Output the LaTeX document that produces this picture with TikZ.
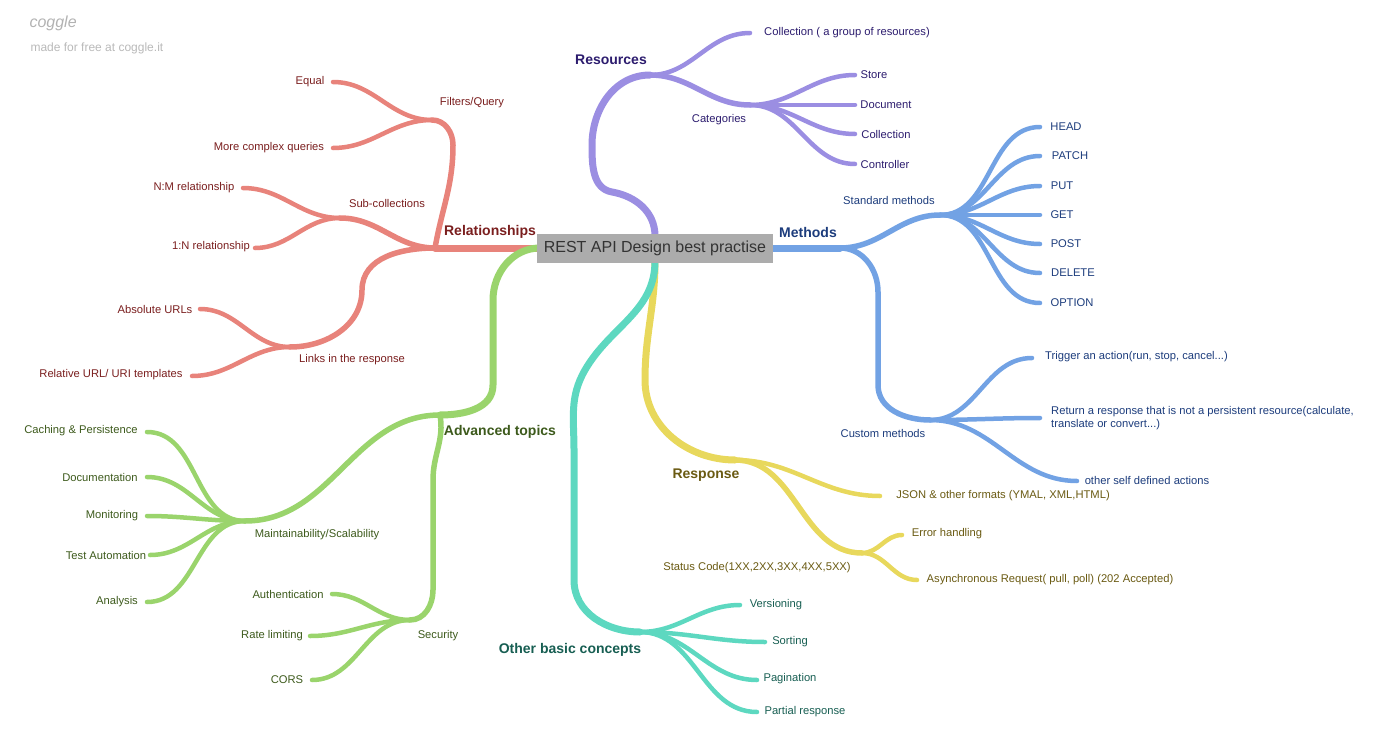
\documentclass[tikz,border=0pt]{standalone}
\usepackage{fontspec}
\setmainfont{Liberation Sans}
\definecolor{cred}{HTML}{E8837B}\definecolor{tred}{HTML}{7A1E1E}
\definecolor{cgrn}{HTML}{9AD46C}\definecolor{tgrn}{HTML}{3D5A1C}
\definecolor{ctea}{HTML}{5DD8C0}\definecolor{ttea}{HTML}{175E52}
\definecolor{cyel}{HTML}{E8D85C}\definecolor{tyel}{HTML}{6A5A12}
\definecolor{cpur}{HTML}{9B8EE2}\definecolor{tpur}{HTML}{2C1C6E}
\definecolor{cblu}{HTML}{72A2E4}\definecolor{tblu}{HTML}{1C3C7C}
\tikzset{
 lbl/.style={font=\fontsize{11.2}{13.2}\selectfont,inner sep=1pt},
 ttl/.style={font=\fontsize{14}{16}\selectfont\bfseries,inner sep=1pt},
 mainb/.style={line width=7pt,line cap=round},
 subb/.style={line width=5.5pt,line cap=round},
 leafb/.style={line width=4.5pt,line cap=round},
}
\begin{document}
\begin{tikzpicture}[x=1pt,y=-1pt]
\useasboundingbox (0,0) rectangle (1400,752);
\node[font=\fontsize{16}{18}\selectfont\itshape,text=gray!60,anchor=west] (cg) at (26,23) {coggle};
\node[font=\fontsize{12}{14}\selectfont,text=gray!55,anchor=west] (mf) at (27,48) {made for free at coggle.it};
% coordinates
\coordinate (cL) at (540,248); \coordinate (cR) at (770,248);
\coordinate (cT) at (655,236); \coordinate (cB) at (655,261);
% ---------- RED
\coordinate (rj) at (435,248); \coordinate (fj) at (432,120);
\coordinate (eq) at (333,82); \coordinate (mc) at (333,148);
\coordinate (sj) at (340,218); \coordinate (nm) at (243,188); \coordinate (on) at (255,248);
\coordinate (lj) at (290,347); \coordinate (ab) at (200,309); \coordinate (rel) at (192,376);
\begin{scope}[draw=cred,color=cred]
\draw[mainb] (cL) -- (rj);
\draw[subb] (rj) to[out=80,in=-90] (453,145) to[out=90,in=0] (fj);
\draw[leafb] (fj) to[out=180,in=0] (eq); \draw[leafb] (fj) to[out=180,in=0] (mc);
\draw[subb] (rj) to[out=180,in=0] (sj);
\draw[leafb] (sj) to[out=180,in=0] (nm); \draw[leafb] (sj) to[out=180,in=0] (on);
\draw[subb] (rj) to[out=180,in=90] (362,290) to[out=-90,in=0] (lj);
\draw[leafb] (lj) to[out=180,in=0] (ab); \draw[leafb] (lj) to[out=180,in=0] (rel);
\end{scope}
\begin{scope}[text=tred]
\node[ttl] (t1) at (490,232) {Relationships};
\node[lbl] (l1) at (472,103) {Filters/Query};
\node[lbl] (l2) at (310,82) {Equal};
\node[lbl] (l3) at (269,148) {More complex queries};
\node[lbl] (l4) at (387,203) {Sub-collections};
\node[lbl] (l5) at (194,188) {N:M relationship};
\node[lbl] (l6) at (211,247) {1:N relationship};
\node[lbl] (l7) at (352,360) {Links in the response};
\node[lbl] (l8) at (155,309) {Absolute URLs};
\node[lbl] (l9) at (111,375) {Relative URL/ URI templates};
\end{scope}
% ---------- GREEN
\coordinate (ag) at (440,415); \coordinate (mj) at (245,521); \coordinate (sc) at (410,620);
\coordinate (g1) at (147,432); \coordinate (g2) at (147,477); \coordinate (g3) at (147,516);
\coordinate (g4) at (150,555); \coordinate (g5) at (147,602);
\coordinate (s1) at (332,594); \coordinate (s2) at (310,636); \coordinate (s3) at (312,680);
\begin{scope}[draw=cgrn]
\draw[mainb] (cL) to[out=180,in=90] (493,300) -- (493,385) to[out=-90,in=0] (ag);
\draw[subb] (ag) to[out=180,in=0] (mj);
\foreach \g in {g1,g2,g3,g4,g5} \draw[leafb] (mj) to[out=180,in=0] (\g);
\draw[subb] (ag) to[out=-80,in=90] (433,480) -- (433,590) to[out=-90,in=0] (sc);
\foreach \g in {s1,s2,s3} \draw[leafb] (sc) to[out=180,in=0] (\g);
\end{scope}
\begin{scope}[text=tgrn]
\node[ttl] (t2) at (500,432) {Advanced topics};
\node[lbl] (m0) at (317,535) {Maintainability/Scalability};
\node[lbl] (m1) at (81,431) {Caching \& Persistence};
\node[lbl] (m2) at (100,477) {Documentation};
\node[lbl] (m3) at (112,516) {Monitoring};
\node[lbl] (m4) at (106,555) {Test Automation};
\node[lbl] (m5) at (117,602) {Analysis};
\node[lbl] (m6) at (438,636) {Security};
\node[lbl] (m7) at (288,594) {Authentication};
\node[lbl] (m8) at (272,636) {Rate limiting};
\node[lbl] (m9) at (287,680) {CORS};
\end{scope}
% ---------- YELLOW
\coordinate (yj) at (735,460); \coordinate (js) at (880,496); \coordinate (st) at (862,553);
\coordinate (eh) at (902,535); \coordinate (as) at (917,580);
\begin{scope}[draw=cyel]
\draw[mainb] (cB) to[out=-90,in=90] (645,380) to[out=-90,in=180] (yj);
\draw[leafb] (yj) to[out=0,in=180] (js);
\draw[subb] (yj) to[out=0,in=180] (st);
\draw[leafb] (st) to[out=0,in=180] (eh); \draw[leafb] (st) to[out=0,in=180] (as);
\end{scope}
\begin{scope}[text=tyel]
\node[ttl] (t3) at (706,475) {Response};
\node[lbl] (y1) at (1003,496) {JSON \& other formats (YMAL, XML,HTML)};
\node[lbl] (y2) at (757,568) {Status Code(1XX,2XX,3XX,4XX,5XX)};
\node[lbl] (y3) at (947,534) {Error handling};
\node[lbl] (y4) at (1050,580) {Asynchronous Request( pull, poll) (202 Accepted)};
\end{scope}
% ---------- TEAL
\coordinate (oj) at (640,632);
\coordinate (o1) at (740,605); \coordinate (o2) at (765,642); \coordinate (o3) at (757,680); \coordinate (o4) at (757,712);
\begin{scope}[draw=ctea]
\draw[mainb] (cB) to[out=-90,in=60] (585,370) to[out=-120,in=90] (574,450) -- (574,580) to[out=-90,in=180] (oj);
\foreach \g in {o1,o2,o3,o4} \draw[leafb] (oj) to[out=0,in=180] (\g);
\end{scope}
\begin{scope}[text=ttea]
\node[ttl] (t4) at (570,650) {Other basic concepts};
\node[lbl] (q1) at (776,605) {Versioning};
\node[lbl] (q2) at (790,642) {Sorting};
\node[lbl] (q3) at (790,679) {Pagination};
\node[lbl] (q4) at (805,712) {Partial response};
\end{scope}
% ---------- PURPLE
\coordinate (pj) at (650,75); \coordinate (p0) at (750,33); \coordinate (cj) at (750,105);
\coordinate (p1) at (855,75); \coordinate (p2) at (855,105); \coordinate (p3) at (855,134); \coordinate (p4) at (855,164);
\begin{scope}[draw=cpur]
\draw[mainb] (cT) to[out=90,in=-10] (612,192) to[out=170,in=-90] (592,145) to[out=90,in=180] (pj);
\draw[leafb] (pj) to[out=0,in=180] (p0);
\draw[subb] (pj) to[out=0,in=180] (cj);
\foreach \g in {p1,p2,p3,p4} \draw[leafb] (cj) to[out=0,in=180] (\g);
\end{scope}
\begin{scope}[text=tpur]
\node[ttl] (t5) at (611,60) {Resources};
\node[lbl] (r0) at (847,33) {Collection ( a group of resources)};
\node[lbl] (r1) at (719,120) {Categories};
\node[lbl] (r2) at (874,75) {Store};
\node[lbl] (r3) at (886,105) {Document};
\node[lbl] (r4) at (886,134) {Collection};
\node[lbl] (r5) at (885,164) {Controller};
\end{scope}
% ---------- BLUE
\coordinate (bj) at (840,248); \coordinate (smj) at (940,215); \coordinate (cmj) at (930,420);
\coordinate (b1) at (1040,127); \coordinate (b2) at (1040,156); \coordinate (b3) at (1040,186);
\coordinate (b4) at (1040,215); \coordinate (b5) at (1040,244); \coordinate (b6) at (1040,273); \coordinate (b7) at (1040,303);
\coordinate (c1) at (1032,358); \coordinate (c2) at (1040,418); \coordinate (c3) at (1077,481);
\begin{scope}[draw=cblu]
\draw[mainb] (cR) -- (bj);
\draw[subb] (bj) to[out=0,in=180] (smj);
\foreach \g in {b1,b2,b3,b4,b5,b6,b7} \draw[leafb] (smj) to[out=0,in=180] (\g);
\draw[subb] (bj) to[out=0,in=90] (878,292) -- (878,385) to[out=-90,in=180] (cmj);
\foreach \g in {c1,c2,c3} \draw[leafb] (cmj) to[out=0,in=180] (\g);
\end{scope}
\begin{scope}[text=tblu]
\node[ttl] (t6) at (808,232) {Methods};
\node[lbl] (k0) at (889,200) {Standard methods};
\node[lbl] (k1) at (1066,127) {HEAD};
\node[lbl] (k2) at (1070,156) {PATCH};
\node[lbl] (k3) at (1062,186) {PUT};
\node[lbl] (k4) at (1062,215) {GET};
\node[lbl] (k5) at (1066,244) {POST};
\node[lbl] (k6) at (1073,273) {DELETE};
\node[lbl] (k7) at (1072,303) {OPTION};
\node[lbl] (k8) at (883,433) {Custom methods};
\node[lbl,anchor=west] (k9) at (1044,357) {Trigger an action(run, stop, cancel...)};
\node[lbl,anchor=west,align=left] (k10) at (1050,418) {Return a response that is not a persistent resource(calculate,\\translate or convert...)};
\node[lbl] (k11) at (1147,480) {other self defined actions};
\end{scope}
% ---------- CENTER
\node[fill=gray!65,text=black!80,minimum width=236pt,minimum height=29pt,inner sep=0pt,
 font=\fontsize{16}{18}\selectfont] (c) at (655,248.5) {REST API Design best practise};
\end{tikzpicture}
\end{document}
